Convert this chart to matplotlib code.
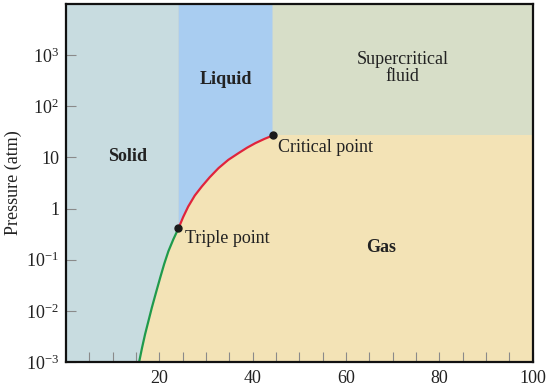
import numpy as np
import matplotlib
matplotlib.use("Agg")
import matplotlib.pyplot as plt

plt.rcParams['font.family'] = ['Liberation Serif', 'DejaVu Serif']
plt.rcParams['mathtext.fontset'] = 'custom'
plt.rcParams['mathtext.rm'] = 'Liberation Serif'
plt.rcParams['mathtext.it'] = 'Liberation Serif:italic'

# readings (temperature, pressure in atm)
sub_T = [15.67, 16.3, 16.95, 17.7, 18.4, 19.3, 20.2, 21.05, 21.95, 23.0, 24.1]
sub_P = [0.001, 0.0019, 0.0035, 0.0065, 0.0116, 0.023, 0.045, 0.083, 0.147, 0.25, 0.41]
vap_T = [24.1, 25.1, 26.2, 27.6, 29.1, 30.8, 32.7, 34.8, 37.0, 38.8, 40.6, 42.5, 44.3]
vap_P = [0.41, 0.68, 1.1, 1.8, 2.7, 4.1, 6.2, 9.0, 12.2, 15.5, 19.1, 23.0, 26.9]
triple = (24.1, 0.41)
critical = (44.3, 26.9)

x_min, x_max = 0, 100
p_min, p_max = 1e-3, 1e4
xlabels = [20, 40, 60, 80, 100]
xminor = [5, 10, 15, 25, 30, 35, 45, 50, 55, 65, 70, 75, 85, 90, 95]
yticks = [1e-3, 1e-2, 1e-1, 1, 10, 1e2, 1e3]
ylabels = ['$10^{-3}$', '$10^{-2}$', '$10^{-1}$', '1', '10', '$10^{2}$', '$10^{3}$']

c_solid = '#c8dce0'
c_liquid = '#a9cdf1'
c_super = '#d7dec8'
c_gas = '#f3e3b6'

fig = plt.figure(figsize=(5.47, 3.88), dpi=100)
ax = fig.add_axes([0.1207, 0.067, 0.8528, 0.9225])
ax.set_yscale('log')
ax.set_xlim(x_min, x_max)
ax.set_ylim(p_min, p_max)
ax.set_facecolor(c_gas)

# solid region
sx = [x_min] + sub_T + [triple[0], x_min]
sy = [p_min] + sub_P + [p_max, p_max]
ax.fill(sx, sy, color=c_solid, lw=0)
# liquid region
lx = vap_T + [critical[0], triple[0]]
ly = vap_P + [p_max, p_max]
ax.fill(lx, ly, color=c_liquid, lw=0)
# supercritical fluid
ax.fill([critical[0], x_max, x_max, critical[0]],
        [critical[1], critical[1], p_max, p_max], color=c_super, lw=0)

ax.plot(sub_T, sub_P, color='#1f9a4c', lw=1.6, solid_joinstyle='round')
ax.plot(vap_T, vap_P, color='#e0243c', lw=1.6, solid_joinstyle='round')
ax.plot([triple[0], critical[0]], [triple[1], critical[1]], 'o',
        color='#1a1a1a', ms=5, zorder=5)

tkw = dict(fontsize=13, color='#222222')
ax.text(13.1, 10.3, 'Solid', ha='center', va='center', fontweight='bold', **tkw)
ax.text(34.3, 10**2.53, 'Liquid', ha='center', va='center', fontweight='bold', **tkw)
ax.text(72.1, 10**2.75, 'Supercritical\nfluid', ha='center', va='center',
        linespacing=1.0, **tkw)
ax.text(67.6, 10**-0.76, 'Gas', ha='center', va='center', fontweight='bold', **tkw)
ax.text(45.5, 10**1.19, 'Critical point', ha='left', va='center', **tkw)
ax.text(25.4, 10**-0.58, 'Triple point', ha='left', va='center', **tkw)

ax.set_xticks(xlabels)
ax.set_xticklabels([str(v) for v in xlabels])
ax.set_xticks(xminor, minor=True)
ax.set_yticks(yticks)
ax.set_yticklabels(ylabels)
ax.yaxis.set_minor_locator(matplotlib.ticker.NullLocator())
ax.tick_params(which='both', direction='in', color='#8a8a8a', width=0.8,
               length=7, labelsize=13, labelcolor='#222222')
ax.tick_params(axis='x', pad=6)
ax.tick_params(axis='y', pad=5)
ax.set_ylabel('Pressure (atm)', fontsize=13, color='#222222', labelpad=3)

for s in ax.spines.values():
    s.set_linewidth(1.6)
    s.set_color('#111111')

fig.savefig('out.png', dpi=100)
